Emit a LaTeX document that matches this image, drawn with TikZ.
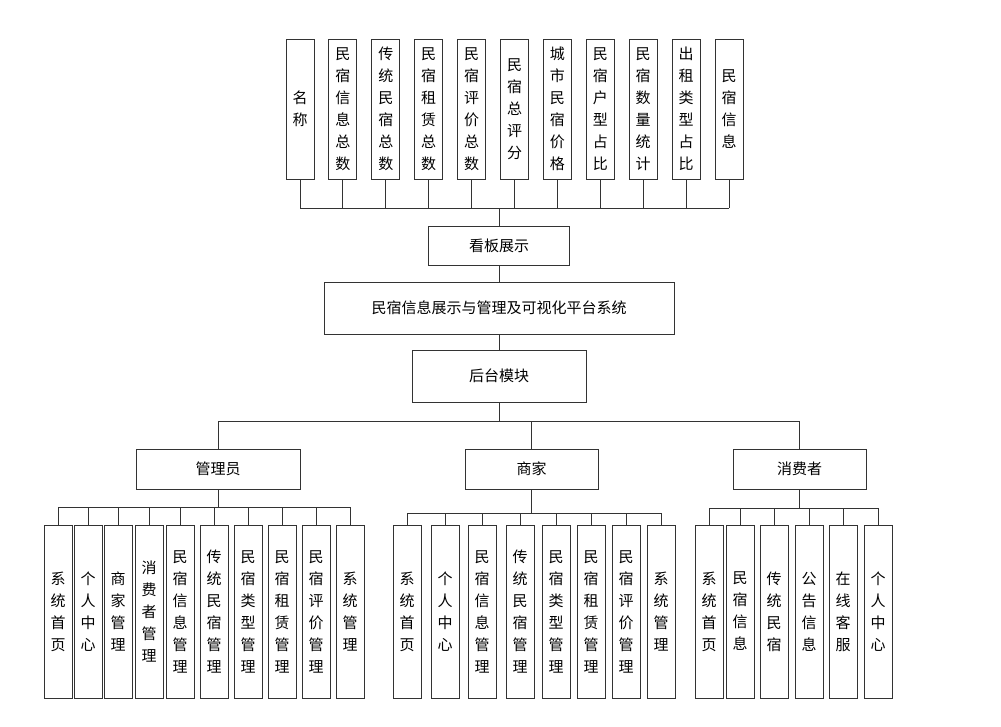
\documentclass[tikz,border=0pt]{standalone}
\usepackage{fontspec}
\newfontfamily\cjk{Noto Sans CJK SC}
\begin{document}
\begin{tikzpicture}[x=1pt,y=-1pt,
  bx/.style={draw=black!80,line width=0.9pt,inner sep=0pt,font=\cjk\fontsize{15}{22}\selectfont,align=center},
  vb/.style={bx,minimum width=28pt},
  ln/.style={draw=black!80,line width=0.9pt}]
\useasboundingbox (0,0) rectangle (1001,726);
% top
\foreach \i/\t in {1/名\\称,2/民\\宿\\信\\息\\总\\数,3/传\\统\\民\\宿\\总\\数,4/民\\宿\\租\\赁\\总\\数,5/民\\宿\\评\\价\\总\\数,6/民\\宿\\总\\评\\分,7/城\\市\\民\\宿\\价\\格,8/民\\宿\\户\\型\\占\\比,9/民\\宿\\数\\量\\统\\计,10/出\\租\\类\\型\\占\\比,11/民\\宿\\信\\息}{
  \node[vb,minimum height=140pt] (t\i) at ({300+42.9*(\i-1)},109) {\t};
  \draw[ln] (t\i.south) -- ++(0,29);
}
\draw[ln] (300,208) -- (729,208);
\node[bx,minimum width=141pt,minimum height=39pt] (kb) at (499,245.5) {看板展示};
\node[bx,minimum width=350pt,minimum height=52pt] (sys) at (499,308) {民宿信息展示与管理及可视化平台系统};
\node[bx,minimum width=174pt,minimum height=52pt] (ht) at (499,376) {后台模块};
\coordinate (tb) at (499,208);
\draw[ln] (tb) -- (kb.north);
\draw[ln] (kb.south) -- (sys.north);
\draw[ln] (sys.south) -- (ht.north);
\coordinate (hb) at (499,421);
\draw[ln] (ht.south) -- (hb);
\draw[ln] (218,421) -- (800,421);
\node[bx,minimum width=164pt,minimum height=40pt] (gl) at (218,469) {管理员};
\node[bx,minimum width=133pt,minimum height=40pt] (sj) at (531.5,469) {商家};
\node[bx,minimum width=133pt,minimum height=40pt] (xf) at (799.5,469) {消费者};
\draw[ln] (218,421) -- (gl.north);
\draw[ln] (531.5,421) -- (sj.north);
\draw[ln] (799.5,421) -- (xf.north);
% admin
\draw[ln] (gl.south) -- (218,507);
\draw[ln] (58,507) -- (350,507);
\foreach \x/\t [count=\i] in {58/系\\统\\首\\页,88/个\\人\\中\\心,118/商\\家\\管\\理,149/消\\费\\者\\管\\理,180/民\\宿\\信\\息\\管\\理,214/传\\统\\民\\宿\\管\\理,248/民\\宿\\类\\型\\管\\理,282/民\\宿\\租\\赁\\管\\理,316/民\\宿\\评\\价\\管\\理,350/系\\统\\管\\理}{
  \node[vb,minimum height=173pt] (a\i) at (\x,611.5) {\t};
  \draw[ln] (\x,507) -- (a\i.north);
}
% merchant
\draw[ln] (sj.south) -- (531.5,513);
\draw[ln] (407,513) -- (661,513);
\foreach \x/\t [count=\i] in {407/系\\统\\首\\页,445/个\\人\\中\\心,482/民\\宿\\信\\息\\管\\理,520/传\\统\\民\\宿\\管\\理,556/民\\宿\\类\\型\\管\\理,591/民\\宿\\租\\赁\\管\\理,626/民\\宿\\评\\价\\管\\理,661/系\\统\\管\\理}{
  \node[vb,minimum height=173pt] (m\i) at (\x,611.5) {\t};
  \draw[ln] (\x,513) -- (m\i.north);
}
% consumer
\draw[ln] (xf.south) -- (799.5,508);
\draw[ln] (709,508) -- (878,508);
\foreach \x/\t [count=\i] in {709/系\\统\\首\\页,740/民\\宿\\信\\息,774/传\\统\\民\\宿,809/公\\告\\信\\息,843/在\\线\\客\\服,878/个\\人\\中\\心}{
  \node[vb,minimum height=173pt] (c\i) at (\x,611.5) {\t};
  \draw[ln] (\x,508) -- (c\i.north);
}
\end{tikzpicture}
\end{document}
